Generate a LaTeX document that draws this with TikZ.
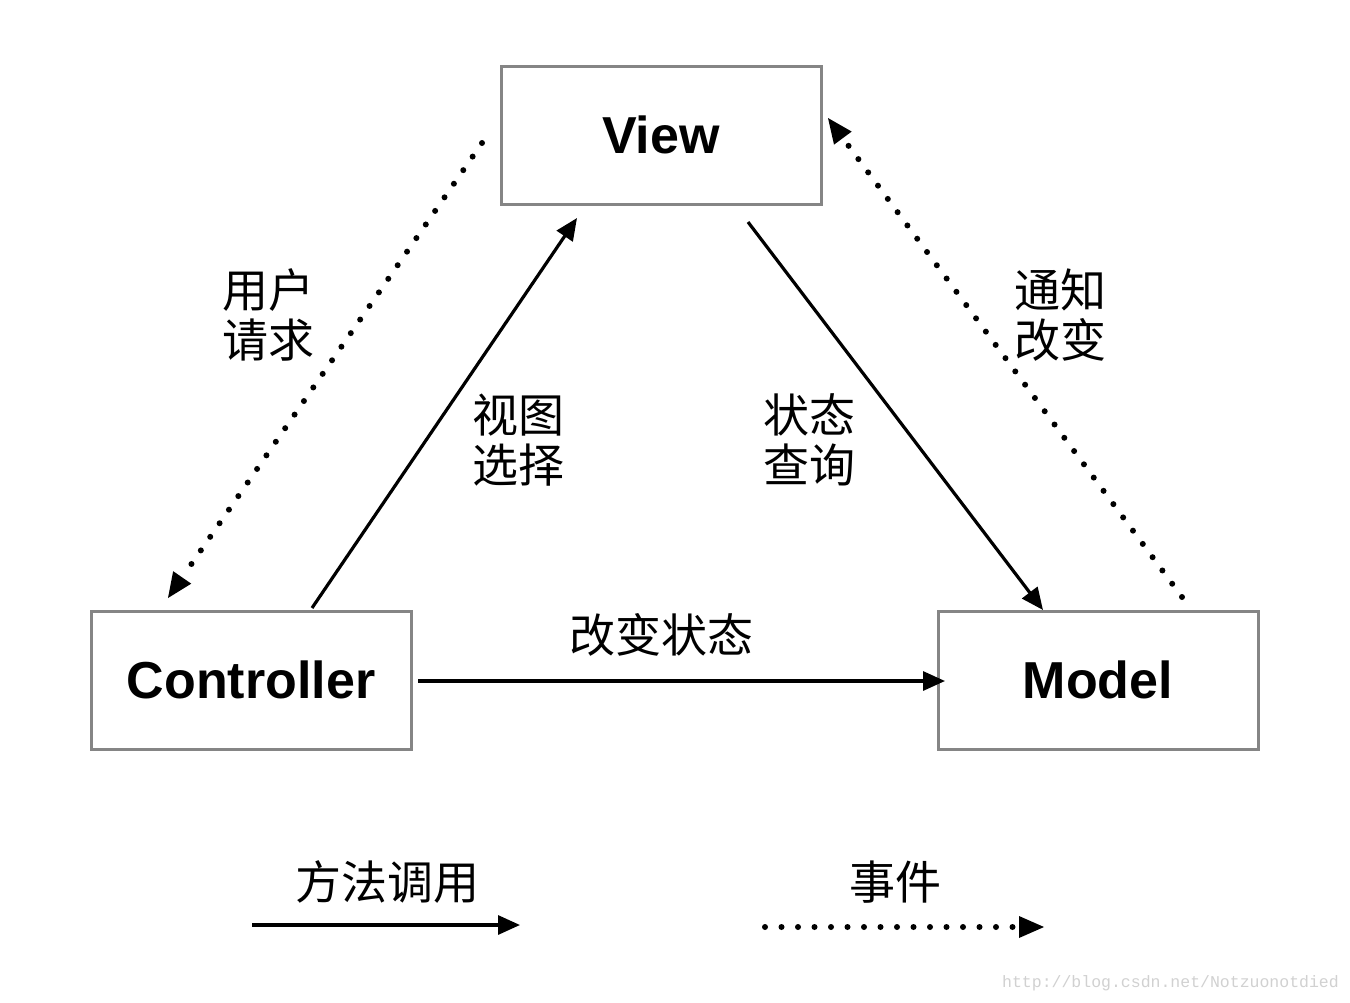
\documentclass[tikz,border=0pt]{standalone}
\usepackage{fontspec}
\setmainfont{Liberation Sans}
\newfontfamily\cjk{Noto Sans CJK SC}
\newfontfamily\wm{Liberation Mono}
\usetikzlibrary{arrows.meta}
\begin{document}
\begin{tikzpicture}[x=1pt,y=-1pt,
  box/.style={draw=black!48,line width=3pt,minimum width=320pt,minimum height=138pt,inner sep=0pt,font=\fontsize{52}{60}\selectfont\bfseries},
  solidarr/.style={line width=3.2pt,-{Triangle[length=22pt,width=19pt]}},
  dotarr/.style={line width=6pt,line cap=round,dash pattern=on 0pt off 16.5pt,-{Triangle[length=25pt,width=22pt,line width=0pt]}},
  lab/.style={font=\cjk\fontsize{46}{50}\selectfont,align=center,inner sep=0pt}]
\useasboundingbox (0,0) rectangle (1350,1002);
\fill[white] (0,0) rectangle (1350,1002);
\node[box] (view) at (661,135) {View};
\node[box] (ctrl) at (251,680) {Controller};
\node[box] (model) at (1098,680) {Model};
% solid connectors
\coordinate (c1) at (312,608);
\coordinate (v1) at (577,218);
\draw[solidarr] (c1) -- (v1);
\coordinate (v2) at (748,222);
\coordinate (m1) at (1043,610);
\draw[solidarr] (v2) -- (m1);
\coordinate (c2) at (418,681);
\coordinate (m2) at (945,681);
\draw[solidarr] (c2) -- (m2);
% dotted connectors
\coordinate (v3) at (482,143);
\coordinate (c3) at (168,598);
\draw[dotarr] (v3) -- (c3);
\coordinate (m3) at (1182,597);
\coordinate (v4) at (828,118);
\draw[dotarr] (m3) -- (v4);
% labels
\node[lab] (l1) at (268,315) {用户\\请求};
\node[lab] (l2) at (518,440) {视图\\选择};
\node[lab] (l3) at (809,440) {状态\\查询};
\node[lab] (l4) at (1060,315) {通知\\改变};
\node[lab] (l5) at (661,635) {改变状态};
% legend
\node[lab] (lg1) at (387,882) {方法调用};
\node[lab] (lg2) at (895,882) {事件};
\coordinate (a1) at (252,925);
\coordinate (a2) at (520,925);
\draw[solidarr] (a1) -- (a2);
\coordinate (b1) at (765,927);
\coordinate (b2) at (1044,927);
\draw[dotarr] (b1) -- (b2);
% watermark
\node[font=\wm\fontsize{16.5}{18}\selectfont,text=black!18,anchor=east,inner sep=0pt] (wm) at (1339,983) {http://blog.csdn.net/Notzuonotdied};
\end{tikzpicture}
\end{document}
